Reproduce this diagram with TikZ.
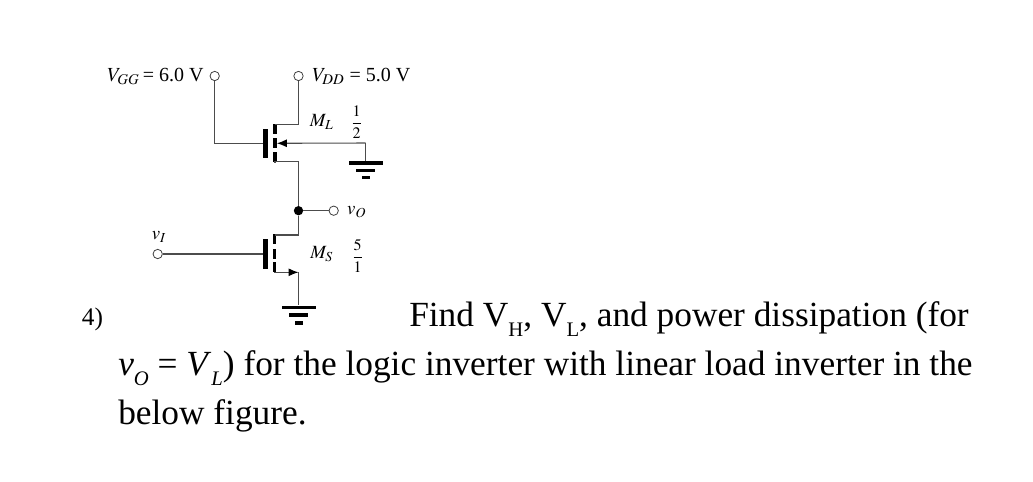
\documentclass[tikz,border=0pt]{standalone}
\usepackage{mathptmx}
\usepackage[no-math]{fontspec}
\setmainfont{Liberation Serif}
\usetikzlibrary{positioning,arrows.meta,calc}
\newcommand{\lowsub}[1]{\raisebox{-7.5pt}{\fontsize{15.5}{17}\selectfont #1}}
\tikzset{
    wire/.style={draw=black!70,line width=0.8pt},
    pin/.style={circle,draw=black!75,fill=white,line width=0.6pt,inner sep=0pt,minimum size=7pt},
    dot/.style={circle,fill=black,inner sep=0pt,minimum size=7pt},
    bar/.style={fill=black,inner sep=0pt,minimum height=2.4pt},
    gate/.style={fill=black,inner sep=0pt,minimum width=3.6pt,minimum height=22pt},
    seg/.style={fill=black,inner sep=0pt,minimum width=2.4pt,minimum height=7.4pt},
    lab/.style={inner sep=0pt,font=\fontsize{14}{16}\selectfont},
    rail/.style={inner sep=0pt,anchor=base west,font=\fontsize{15}{17}\selectfont},
    frac/.style={inner sep=0pt,font=\fontsize{12}{14}\selectfont},
    para/.style={inner sep=0pt,anchor=base west,font=\fontsize{26.5}{30}\selectfont},
    flow/.style={-{Latex[length=7.5pt,width=6pt,black]}}
}
\begin{document}
\begin{tikzpicture}[x=0.75pt,y=-0.75pt]
    \useasboundingbox (0,0) rectangle (1033,482);
    % load transistor
    \node[pin] (vgg) at (214.7,76) {};
    \node[pin] (vdd) at (298.5,76) {};
    \node[gate] (gl) at (265.7,143.7) {};
    \node[seg] (ldt) at (275,129.3) {};
    \node[seg] (lbd) at (275,143.3) {};
    \node[seg] (lsr) at (275,157) {};
    \coordinate (ld) at (298.5,124.5);
    \coordinate (ls) at (298.5,161.5);
    \coordinate (lb) at (365.5,143);
    % driver transistor
    \node[dot] (out) at (298.5,210.7) {};
    \node[pin] (vo) at (333.7,210.7) {};
    \node[pin] (vi) at (157.7,254) {};
    \node[gate] (gs) at (265.3,254) {};
    \node[seg] (sdt) at (274.5,239.3) {};
    \node[seg] (sbd) at (274.5,253.7) {};
    \node[seg] (ssr) at (274.5,267.3) {};
    \coordinate (sd) at (298.5,235);
    \coordinate (ss) at (298.5,272.3);
    % grounds
    \node[bar,minimum width=25.5pt] (gnda) at (365.5,163) {};
    \node[bar,minimum width=14pt] (gndb) at (365.5,170.3) {};
    \node[bar,minimum width=6pt] (gndc) at (365.5,177.7) {};
    \node[bar,minimum width=25.5pt] (gndd) at (298.5,307.3) {};
    \node[bar,minimum width=14pt] (gnde) at (298.5,315) {};
    \node[bar,minimum width=6pt] (gndf) at (298.5,323) {};

    \draw[wire] (vgg) |- (gl);
    \draw[wire] (vdd) -- (ld) -- (ld -| ldt.north);
    \draw[wire] (lsr.south) |- (ls) -- (out);
    \draw[wire] (gnda) -- (lb);
    \draw[wire,flow] (lb) -- (lbd.east);
    \draw[wire] (out) -- (vo);
    \draw[wire] (out) -- (sd) -- (sd -| sdt.north);
    \draw[wire] (vi) -- (gs);
    \draw[wire,flow] (ssr.south) |- (ss);
    \draw[wire] (ss) -- (gndd);

    % labels
    \node[rail] (vgglab) at (107,81) {$V_{GG}$\,= 6.0 V};
    \node[rail] (vddlab) at (312,81) {$V_{DD}$ = 5.0 V};
    \node[lab] (ml) at (321.7,122) {$M_L$};
    \node[frac] (wl) at (356.7,122) {$\displaystyle\frac{1}{2}$};
    \node[lab] (ms) at (321.7,254) {$M_S$};
    \node[frac] (ws) at (357.7,255.7) {$\displaystyle\frac{5}{1}$};
    \node[lab] (volab) at (356.7,212) {$v_O$};
    \node[lab] (vilab) at (159,237) {$v_I$};

    % question
    \node[lab,anchor=base west,font=\fontsize{19}{22}\selectfont] (num) at (81.7,325) {4)};
    \node[para] (linea) at (409,326) {Find V\lowsub{H}, V\lowsub{L}, and power dissipation (for};
    \node[para] (lineb) at (118,375) {\textit{v}\lowsub{\textit{O}} = \textit{V}\lowsub{\textit{L}}) for the logic inverter with linear load inverter in the};
    \node[para] (linec) at (118,424) {below figure.};
\end{tikzpicture}
\end{document}
